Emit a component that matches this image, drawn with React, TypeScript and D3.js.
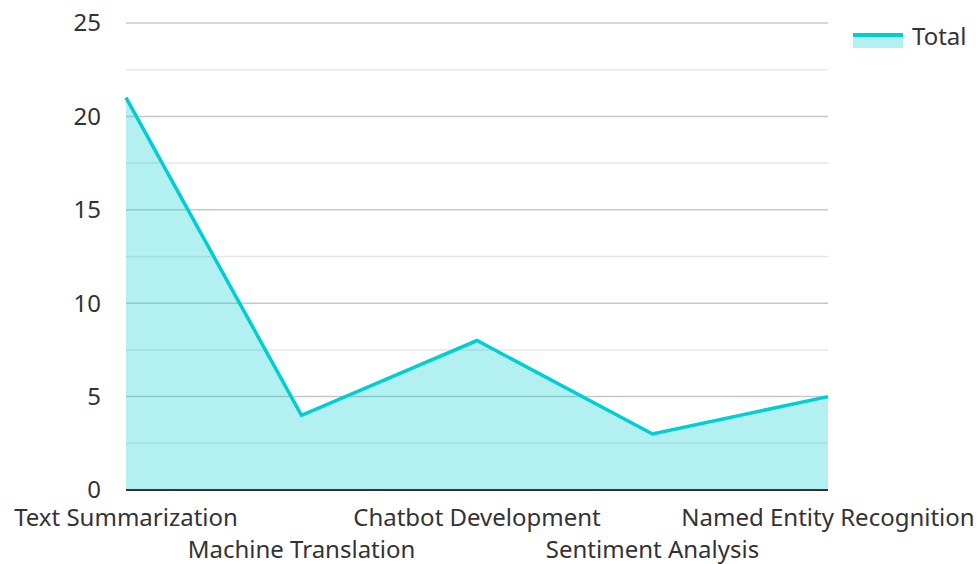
import React, { useEffect, useRef } from "react";
import * as d3 from "d3";

// Area chart: totals per NLP task

const categories = [
  "Text Summarization",
  "Machine Translation",
  "Chatbot Development",
  "Sentiment Analysis",
  "Named Entity Recognition",
];
const totals = [21, 4, 8, 3, 5];
const yTicks = [0, 5, 10, 15, 20, 25];
const minorTicks = [2.5, 7.5, 12.5, 17.5, 22.5];
const seriesName = "Total";

const W = 980;
const H = 564;
const LINE = "#00ced1";
const FONT = "'Noto Sans', 'Open Sans', sans-serif";
const FS = 24;

export default function App() {
  const ref = useRef<SVGSVGElement>(null);

  useEffect(() => {
    const svg = d3.select(ref.current);
    svg.selectAll("*").remove();

    const left = 126, right = 828, top = 23, bottom = 490;

    const x = d3.scalePoint<string>().domain(categories).range([left, right]);
    const y = d3.scaleLinear().domain([0, 25]).range([bottom, top]);

    const g = svg.append("g");

    // minor grid
    g.selectAll(".minor")
      .data(minorTicks)
      .join("line")
      .attr("x1", left)
      .attr("x2", right)
      .attr("y1", (d) => y(d))
      .attr("y2", (d) => y(d))
      .attr("stroke", "#e6e6e6")
      .attr("stroke-width", 1.5);

    // major grid
    g.selectAll(".major")
      .data(yTicks.filter((d) => d > 0))
      .join("line")
      .attr("x1", left)
      .attr("x2", right)
      .attr("y1", (d) => y(d))
      .attr("y2", (d) => y(d))
      .attr("stroke", "#c8c8c8")
      .attr("stroke-width", 1.5);

    // y labels
    g.selectAll(".ylab")
      .data(yTicks)
      .join("text")
      .attr("x", 101)
      .attr("y", (d) => y(d))
      .attr("dy", "0.35em")
      .attr("text-anchor", "end")
      .attr("font-family", FONT)
      .attr("font-size", FS)
      .attr("fill", "#333")
      .text((d) => d);

    const pts = categories.map((c, i) => ({ c, v: totals[i] }));

    const area = d3
      .area<{ c: string; v: number }>()
      .x((d) => x(d.c)!)
      .y0(y(0))
      .y1((d) => y(d.v));
    const line = d3
      .line<{ c: string; v: number }>()
      .x((d) => x(d.c)!)
      .y((d) => y(d.v));

    g.append("path").datum(pts).attr("d", area).attr("fill", LINE).attr("fill-opacity", 0.3);
    g.append("path")
      .datum(pts)
      .attr("d", line)
      .attr("fill", "none")
      .attr("stroke", LINE)
      .attr("stroke-width", 3.5)
      .attr("stroke-linejoin", "miter");

    // x axis line
    g.append("line")
      .attr("x1", left)
      .attr("x2", right)
      .attr("y1", bottom)
      .attr("y2", bottom)
      .attr("stroke", "#333")
      .attr("stroke-width", 2);

    // x labels, staggered
    g.selectAll(".xlab")
      .data(categories)
      .join("text")
      .attr("x", (d) => x(d)!)
      .attr("y", (d, i) => (i % 2 === 0 ? 518 : 550))
      .attr("dy", "0.35em")
      .attr("text-anchor", "middle")
      .attr("font-family", FONT)
      .attr("font-size", FS)
      .attr("fill", "#333")
      .text((d) => d);

    // legend
    const lg = svg.append("g").attr("transform", "translate(853,33)");
    lg.append("rect").attr("width", 50).attr("height", 15).attr("fill", LINE).attr("fill-opacity", 0.3);
    lg.append("rect").attr("width", 50).attr("height", 4).attr("fill", LINE);
    lg.append("text")
      .attr("x", 59)
      .attr("y", 4)
      .attr("dy", "0.35em")
      .attr("font-family", FONT)
      .attr("font-size", FS)
      .attr("fill", "#333")
      .text(seriesName);
  }, []);

  return <svg ref={ref} width={W} height={H} style={{ display: "block", position: "absolute", left: 0, top: 0 }} />;
}
